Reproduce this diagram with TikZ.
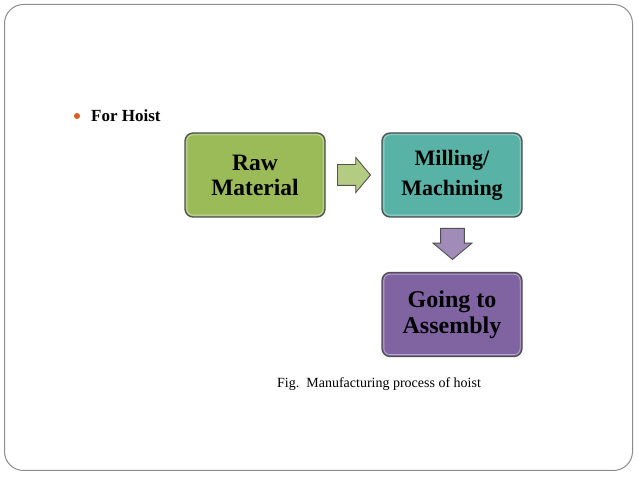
\documentclass[tikz,border=0pt]{standalone}
\usepackage{fontspec}
\setmainfont{Liberation Serif}
\usetikzlibrary{shapes.arrows,calc}
\definecolor{frame}{RGB}{140,140,140}
\definecolor{rawgreen}{RGB}{155,187,89}
\definecolor{millteal}{RGB}{88,178,166}
\definecolor{asmpurple}{RGB}{128,100,162}
\definecolor{bulletorange}{RGB}{222,90,30}
\definecolor{boxedge}{RGB}{80,80,80}
\tikzset{
  procbox/.style={draw=boxedge, line width=1.3pt, rounded corners=8pt,
    minimum width=140pt, minimum height=84pt, align=center,
    font=\fontsize{23.5}{25}\selectfont\bfseries, text=black, inner sep=0pt},
  blockarrow/.style={single arrow, draw=boxedge, line width=0.9pt, inner sep=0pt,
    single arrow tip angle=100},
}
\begin{document}
\begin{tikzpicture}[x=1pt,y=-1pt]
\useasboundingbox (0,0) rectangle (638,478);
% slide frame
\draw[frame, line width=1pt, rounded corners=19pt] (4.5,4.5) rectangle (632.5,470.5);
% bullet and heading
\node[circle, fill=bulletorange, inner sep=0pt, minimum size=6pt] (bul) at (77,116) {};
\node[anchor=base west, font=\fontsize{17}{20}\selectfont\bfseries, inner sep=0pt] (head) at (91,122) {For Hoist};
% process boxes
\node[procbox, fill=rawgreen] (raw) at (255,175) {Raw\\Material};
\node[procbox, fill=millteal, font=\fontsize{22}{30}\selectfont\bfseries] (mill) at (452,175) {Milling/\\Machining};
\node[procbox, fill=asmpurple, font=\fontsize{24}{26}\selectfont\bfseries] (asm) at (452,314.5) {Going to\\Assembly};
% inner highlights
\foreach \n in {raw,mill,asm}{
  \draw[white, opacity=0.45, line width=0.8pt, rounded corners=6pt]
    ([shift={(2.5,-2.5)}]\n.south west) rectangle ([shift={(-2.5,2.5)}]\n.north east);
}
% block arrows
\node[blockarrow, fill=rawgreen!75!white, minimum height=33pt, minimum width=35pt,
      text width=0pt, text height=20pt, text depth=0pt, anchor=tail] (ar1) at (337,175) {};
\node[blockarrow, fill=asmpurple!75!white, shape border rotate=270, minimum height=31pt,
      minimum width=39pt, text width=21pt, text height=0pt, text depth=0pt, anchor=tail] (ar2) at (452.5,228) {};
% caption
\node[anchor=base west, font=\fontsize{14}{16}\selectfont, inner sep=0pt] (cap) at (277,388) {Fig.\ \ Manufacturing process of hoist};
\end{tikzpicture}
\end{document}
